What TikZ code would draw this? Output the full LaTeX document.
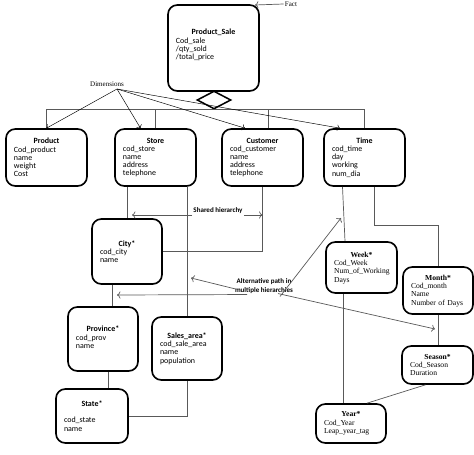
\documentclass[tikz,border=0pt]{standalone}
\usepackage{fontspec}
\setmainfont{Carlito}
\newfontfamily\timesfont{Liberation Serif}
\usetikzlibrary{arrows.meta, shapes.geometric, calc}

\newcommand{\ttl}[1]{\makebox[\linewidth]{\bfseries #1}\\}

\tikzset{
	entity/.style 2 args={draw, line width=1.4pt, rounded corners=8pt, inner xsep=0.24cm, inner ysep=0pt,
		text width=#1, minimum height=#2, align=left, font=\fontsize{6.8}{7}\selectfont},
	serif/.style={font=\fontsize{6.5}{7.1}\timesfont},
	link/.style={draw=black!65, line width=0.6pt},
	lbl/.style={font=\fontsize{6}{7}\selectfont, inner sep=1pt},
}

\begin{document}
\begin{tikzpicture}[x=0.03cm, y=-0.03cm]
		\useasboundingbox (0, 0) rectangle (474, 455);
		% fact and dimensions
		\node [entity={2.25cm}{2.58cm}, text depth=27pt] (sale) at (213.5, 48) {\ttl{Product\_Sale}Cod\_sale\\/qty\_sold\\/total\_price};
		\node [draw, diamond, line width=1.3pt, inner sep=0, minimum width=1.02cm, minimum height=0.54cm] (dia) at (214, 100) {};
		\node [entity={1.95cm}{1.71cm}] (product) at (46.5, 157.5) {\ttl{Product}Cod\_product\\name\\weight\\Cost};
		\node [entity={1.95cm}{1.71cm}] (store) at (155.5, 157.5) {\ttl{Store}cod\_store\\name\\address\\telephone};
		\node [entity={1.95cm}{1.71cm}] (customer) at (262.5, 157.5) {\ttl{Customer}cod\_customer\\name\\address\\telephone};
		\node [entity={1.95cm}{1.71cm}] (time) at (364.5, 157.5) {\ttl{Time}cod\_time\\day\\working\\num\_dia};
		% hierarchies
		\node [entity={1.62cm}{1.95cm}] (city) at (127, 251.5) {\ttl{City*}cod\_city\\name};
		\node [entity={1.62cm}{1.92cm}, text depth=17pt] (province) at (103, 339) {\ttl{Province*}cod\_prov\\name};
		\node [entity={1.62cm}{1.89cm}] (sales) at (187, 348.5) {\ttl{Sales\_area*}cod\_sale\_area\\name\\population};
		\node [entity={1.68cm}{1.62cm}] (state) at (92, 416) {\ttl{State*}\mbox{}\\cod\_state\\name};
		\node [entity={1.65cm}{1.53cm}, serif, text depth=22pt] (week) at (361.5, 267.5) {\ttl{Week*}Cod\_Week\\Num\_of\_Working\\Days};
		\node [entity={1.62cm}{1.41cm}, serif, text depth=22pt] (month) at (438, 290.5) {\ttl{Month*}Cod\_month\\Name\\Number of Days};
		\node [entity={1.65cm}{1.14cm}, serif] (season) at (437.5, 365) {\ttl{Season*}Cod\_Season\\Duration};
		\node [entity={1.62cm}{1.17cm}, serif] (year) at (351, 423.5) {\ttl{Year*}Cod\_Year\\Leap\_year\_tag};
		% labels
		\node [lbl, font=\fontsize{6}{7}\timesfont] (fact) at (291, 4) {Fact};
		\node [lbl, font=\fontsize{6}{7}\timesfont] (dims) at (107, 84) {Dimensions};
		\node [lbl, font=\fontsize{6}{7}\selectfont\bfseries, anchor=south] (shared) at (218, 215) {Shared hierarchy};
		\node [lbl, font=\fontsize{6}{7}\selectfont\bfseries, align=center] (alt) at (264, 286) {Alternative path in\\multiple hierarchies};
		\coordinate (factend) at (255, 5);
		\coordinate (dimsrc) at (117, 89);
		\coordinate (shL) at (132, 215);
		\coordinate (altL) at (117, 295);
		\coordinate (altUL) at (191, 278);
		\coordinate (altUR) at (341, 218);
		\coordinate (altLR) at (435, 329);
		
		\draw [link, ->] (fact.west) -- (factend);
		% star links
		\draw [link] (product.north) |- (dia.south) -| (time.north);
		\draw [link] (store.north) -- (store.north |- dia.south);
		\draw [link] ($(customer.north)+(6,0)$) coordinate (cb) -- (cb |- dia.south);
		\draw [->] (dimsrc) -- (product.north);
		\draw [->] (dimsrc) -- ($(store.north)+(-15,0)$);
		\draw [->] (dimsrc) -- ($(customer.north)+(-17.5,0)$);
		\draw [->] (dimsrc) -- ($(time.north)+(-24.5,0)$);
		% roll-ups
		\draw [link] (city.north) -- (city.north |- store.south);
		\draw [link] (sales.north) -- (sales.north |- store.south);
		\draw [link] (customer.south) |- (city.east);
		\draw [link] ($(time.south)+(-22,0)$) -- ($(week.north)+(-16.5,0)$);
		\draw [link] ($(time.south)+(10,0)$) -- ++(0, 39) -| (month.north);
		\draw [link] ($(week.south)+(-18,0)$) coordinate (wy) -- (wy |- year.north);
		\draw [link] (month.south) -- (month.south |- season.north);
		\draw [link] ($(season.south)+(-12,0)$) -- ($(year.north)+(16,0)$);
		\draw [link] ($(city.south)+(-15,0)$) coordinate (cp) -- (cp |- province.north);
		\draw [link] ($(province.south)+(5,0)$) coordinate (pst) -- (pst |- state.north);
		\draw [link] (sales.south) |- (state.east);
		% annotations
		\draw [link, ->] (shared.south west) -- (shL);
		\draw [link, ->] (shared.south east) -- (shared.south east -| customer.south);
		\draw [link, ->] ($(alt.south)+(-17,0)$) -- (altL);
		\draw [link, ->] ($(alt.west)+(2,3)$) -- (altUL);
		\draw [link, ->] ($(alt.south)+(16,2)$) -- (altUR);
		\draw [link, ->] ($(alt.south)+(14,-1)$) -- (altLR);
\end{tikzpicture}
\end{document}
